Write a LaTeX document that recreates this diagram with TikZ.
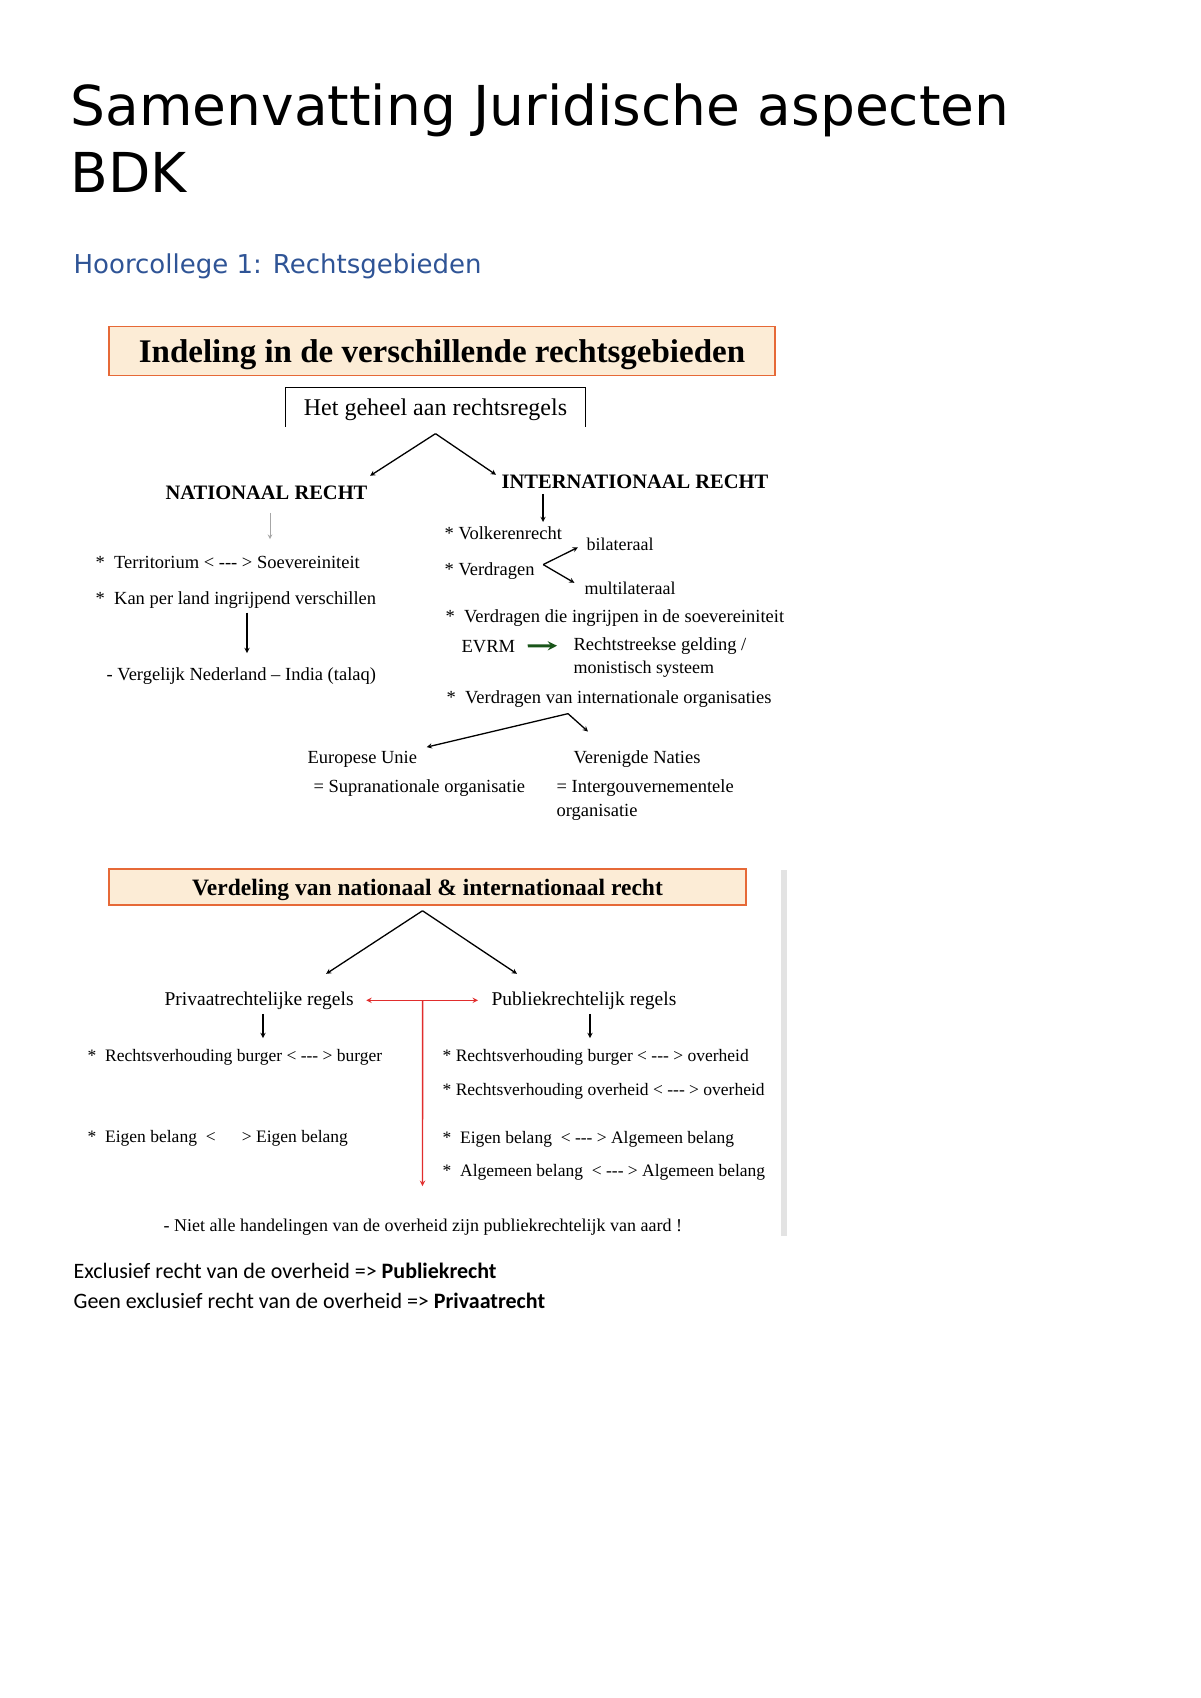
\documentclass[tikz,border=0pt]{standalone}
\usepackage{fontspec}
\setmainfont{Liberation Serif}[Ligatures=TeXOff]
\newfontfamily\headfont{DejaVu Sans}
\newfontfamily\notefont{Carlito}
\usetikzlibrary{positioning, arrows}
\definecolor{boxfill}{RGB}{252,236,214}
\definecolor{boxline}{RGB}{230,105,55}
\definecolor{headblue}{RGB}{47,84,150}
\definecolor{evrmgreen}{RGB}{25,85,25}
\definecolor{splitred}{RGB}{225,45,45}

\begin{document}
\begin{tikzpicture}[x=1pt, y=-1pt, >=stealth, line width=1.3pt,
    txt/.style={anchor=base west, inner sep=1pt, font=\fontsize{18.5}{22}\selectfont},
    sml/.style={txt, font=\fontsize{18}{21}\selectfont},
    low/.style={txt, font=\fontsize{17.5}{21}\selectfont},
    caps/.style={txt, font=\bfseries\fontsize{20.5}{24}\selectfont},
    titlebox/.style={draw=boxline, fill=boxfill, line width=1.5pt, inner sep=0pt, text depth=0pt},
    arr/.style={->, line width=1.3pt},
    faint/.style={->, line width=1pt, draw=black!35},
    evrmarr/.style={->, line width=3pt, draw=evrmgreen},
    redarr/.style={line width=1.4pt, draw=splitred}]
  \useasboundingbox[fill=white] (0,0) rectangle (1200,1698);

  \node[anchor=base west, inner sep=0pt, font=\headfont\fontsize{55}{68}\selectfont] (t1) at (70,125) {Samenvatting Juridische aspecten};
  \node[anchor=base west, inner sep=0pt, font=\headfont\fontsize{55}{68}\selectfont] (t2) at (70,192) {BDK};
  \node[anchor=base west, inner sep=0pt, text=headblue, font=\headfont\fontsize{26}{30}\selectfont] (h1) at (73,273) {Hoorcollege 1: Rechtsgebieden};

  \node[titlebox, minimum width=666pt, minimum height=49pt, font=\bfseries\fontsize{33}{36}\selectfont] (ind) at (442,351) {Indeling in de verschillende rechtsgebieden};
  \node[minimum width=299pt, minimum height=38pt, inner sep=0pt, text depth=0pt, font=\fontsize{24}{28}\selectfont] (hg) at (435.5,407) {Het geheel aan rechtsregels};
  \draw (hg.south west) |- (hg.north east) -- (hg.south east);

  \node[caps] (nat) at (164,499) {NATIONAAL RECHT};
  \node[caps] (int) at (500,488) {INTERNATIONAAL RECHT};
  \draw[arr] ([yshift=-7pt]hg.south) -- ([xshift=1pt,yshift=8pt]nat.north east);
  \draw[arr] ([yshift=-7pt]hg.south) -- ([xshift=-4pt,yshift=-2pt]int.north west);

  \node[txt] (ter) at (94,568) {*\ \ Territorium < --- > Soevereiniteit};
  \node[txt] (kan) at (94,604) {*\ \ Kan per land ingrijpend verschillen};
  \node[txt] (ver) at (105,680) {- Vergelijk Nederland – India (talaq)};
  \coordinate (nv) at (270,539);
  \coordinate (kv) at (247,653);
  \draw[faint, shorten <=12pt] (nat.south -| nv) -- (nv);
  \draw[arr, shorten <=3pt] (kan.south -| kv) -- (kv);

  \node[txt] (vol) at (443,539) {* Volkerenrecht};
  \node[txt] (verd) at (443,575) {* Verdragen};
  \node[sml] (bil) at (585,550) {bilateraal};
  \node[sml] (mul) at (583,594) {multilateraal};
  \node[txt] (vdi) at (444,622) {*\ \ Verdragen die ingrijpen in de soevereiniteit};
  \node[txt] (evrm) at (460,652) {EVRM};
  \node[txt] (rg) at (572,650) {Rechtstreekse gelding /};
  \node[sml, below=4pt of rg.south west, anchor=north west] (mon) {monistisch systeem};
  \node[txt] (vio) at (445,703) {*\ \ Verdragen van internationale organisaties};
  \coordinate (iv) at (543,522);
  \draw[arr, shorten <=4pt] (int.south -| iv) -- (iv);
  \draw[arr, shorten >=8pt] ([xshift=7pt,yshift=6pt]verd.east) -- (bil.west);
  \draw[arr, shorten >=10pt] ([xshift=7pt,yshift=6pt]verd.east) -- (mul.west);
  \draw[evrmarr, shorten <=11pt, shorten >=15pt] (evrm.east) -- (rg.west);

  \node[txt] (eu) at (306,763) {Europese Unie};
  \node[txt] (sup) at (312,792) {= Supranationale organisatie};
  \node[txt] (vn) at (572,763) {Verenigde Naties};
  \node[txt] (ig) at (555,792) {= Intergouvernementele};
  \node[txt, below=5pt of ig.south west, anchor=north west] (org) {organisatie};
  \draw[arr] ([xshift=123pt,yshift=-5pt]vio.south west) -- ([xshift=8pt,yshift=2pt]eu.north east);
  \draw[arr] ([xshift=123pt,yshift=-5pt]vio.south west) -- ([xshift=16pt,yshift=17pt]vn.north west);

  \fill[gray!22] (781,870) rectangle (787,1236);
  \node[titlebox, minimum width=637pt, minimum height=36pt, font=\bfseries\fontsize{23.5}{27}\selectfont] (vni) at (427.5,887) {Verdeling van nationaal \& internationaal recht};
  \node[txt, font=\fontsize{19.5}{23}\selectfont] (priv) at (163,1005) {Privaatrechtelijke regels};
  \node[txt, font=\fontsize{19.5}{23}\selectfont] (pub) at (490,1005) {Publiekrechtelijk regels};
  \draw[arr] ([xshift=-5pt,yshift=-5pt]vni.south) -- ([xshift=67pt,yshift=16pt]priv.north);
  \draw[arr] ([xshift=-5pt,yshift=-5pt]vni.south) -- ([xshift=-67pt,yshift=16pt]pub.north);
  \draw[redarr, <->, shorten <=11pt, shorten >=12pt] (priv.east) -- coordinate (rmid) (pub.west);
  \coordinate (rv) at (422.5,1186);
  \draw[redarr, ->] (rmid) -- (rv);
  \coordinate (pv) at (263,1038);
  \coordinate (qv) at (590,1038);
  \draw[arr, shorten <=3pt] (priv.south -| pv) -- (pv);
  \draw[arr, shorten <=3pt] (pub.south -| qv) -- (qv);

  \node[low] (rb1) at (86,1061) {*\ \ Rechtsverhouding burger < --- > burger};
  \node[low] (eb1) at (86,1142) {*\ \ Eigen belang\ \ <\ \ \ \ \ \ > Eigen belang};
  \node[low] (rb2) at (441,1061) {* Rechtsverhouding burger < --- > overheid};
  \node[low] (ro2) at (441,1095) {* Rechtsverhouding overheid < --- > overheid};
  \node[low] (ea2) at (441,1143) {*\ \ Eigen belang\ \ < --- > Algemeen belang};
  \node[low] (aa2) at (441,1176) {*\ \ Algemeen belang\ \ < --- > Algemeen belang};
  \node[low, font=\fontsize{18}{21}\selectfont] (nah) at (162,1231) {- Niet alle handelingen van de overheid zijn publiekrechtelijk van aard !};

  \node[anchor=base west, inner sep=0pt, font=\notefont\fontsize{22}{26}\selectfont] (n1) at (73,1278) {Exclusief recht van de overheid => \textbf{Publiekrecht}};
  \node[anchor=base west, inner sep=0pt, font=\notefont\fontsize{22}{26}\selectfont] (n2) at (73,1308) {Geen exclusief recht van de overheid => \textbf{Privaatrecht}};
\end{tikzpicture}
\end{document}
